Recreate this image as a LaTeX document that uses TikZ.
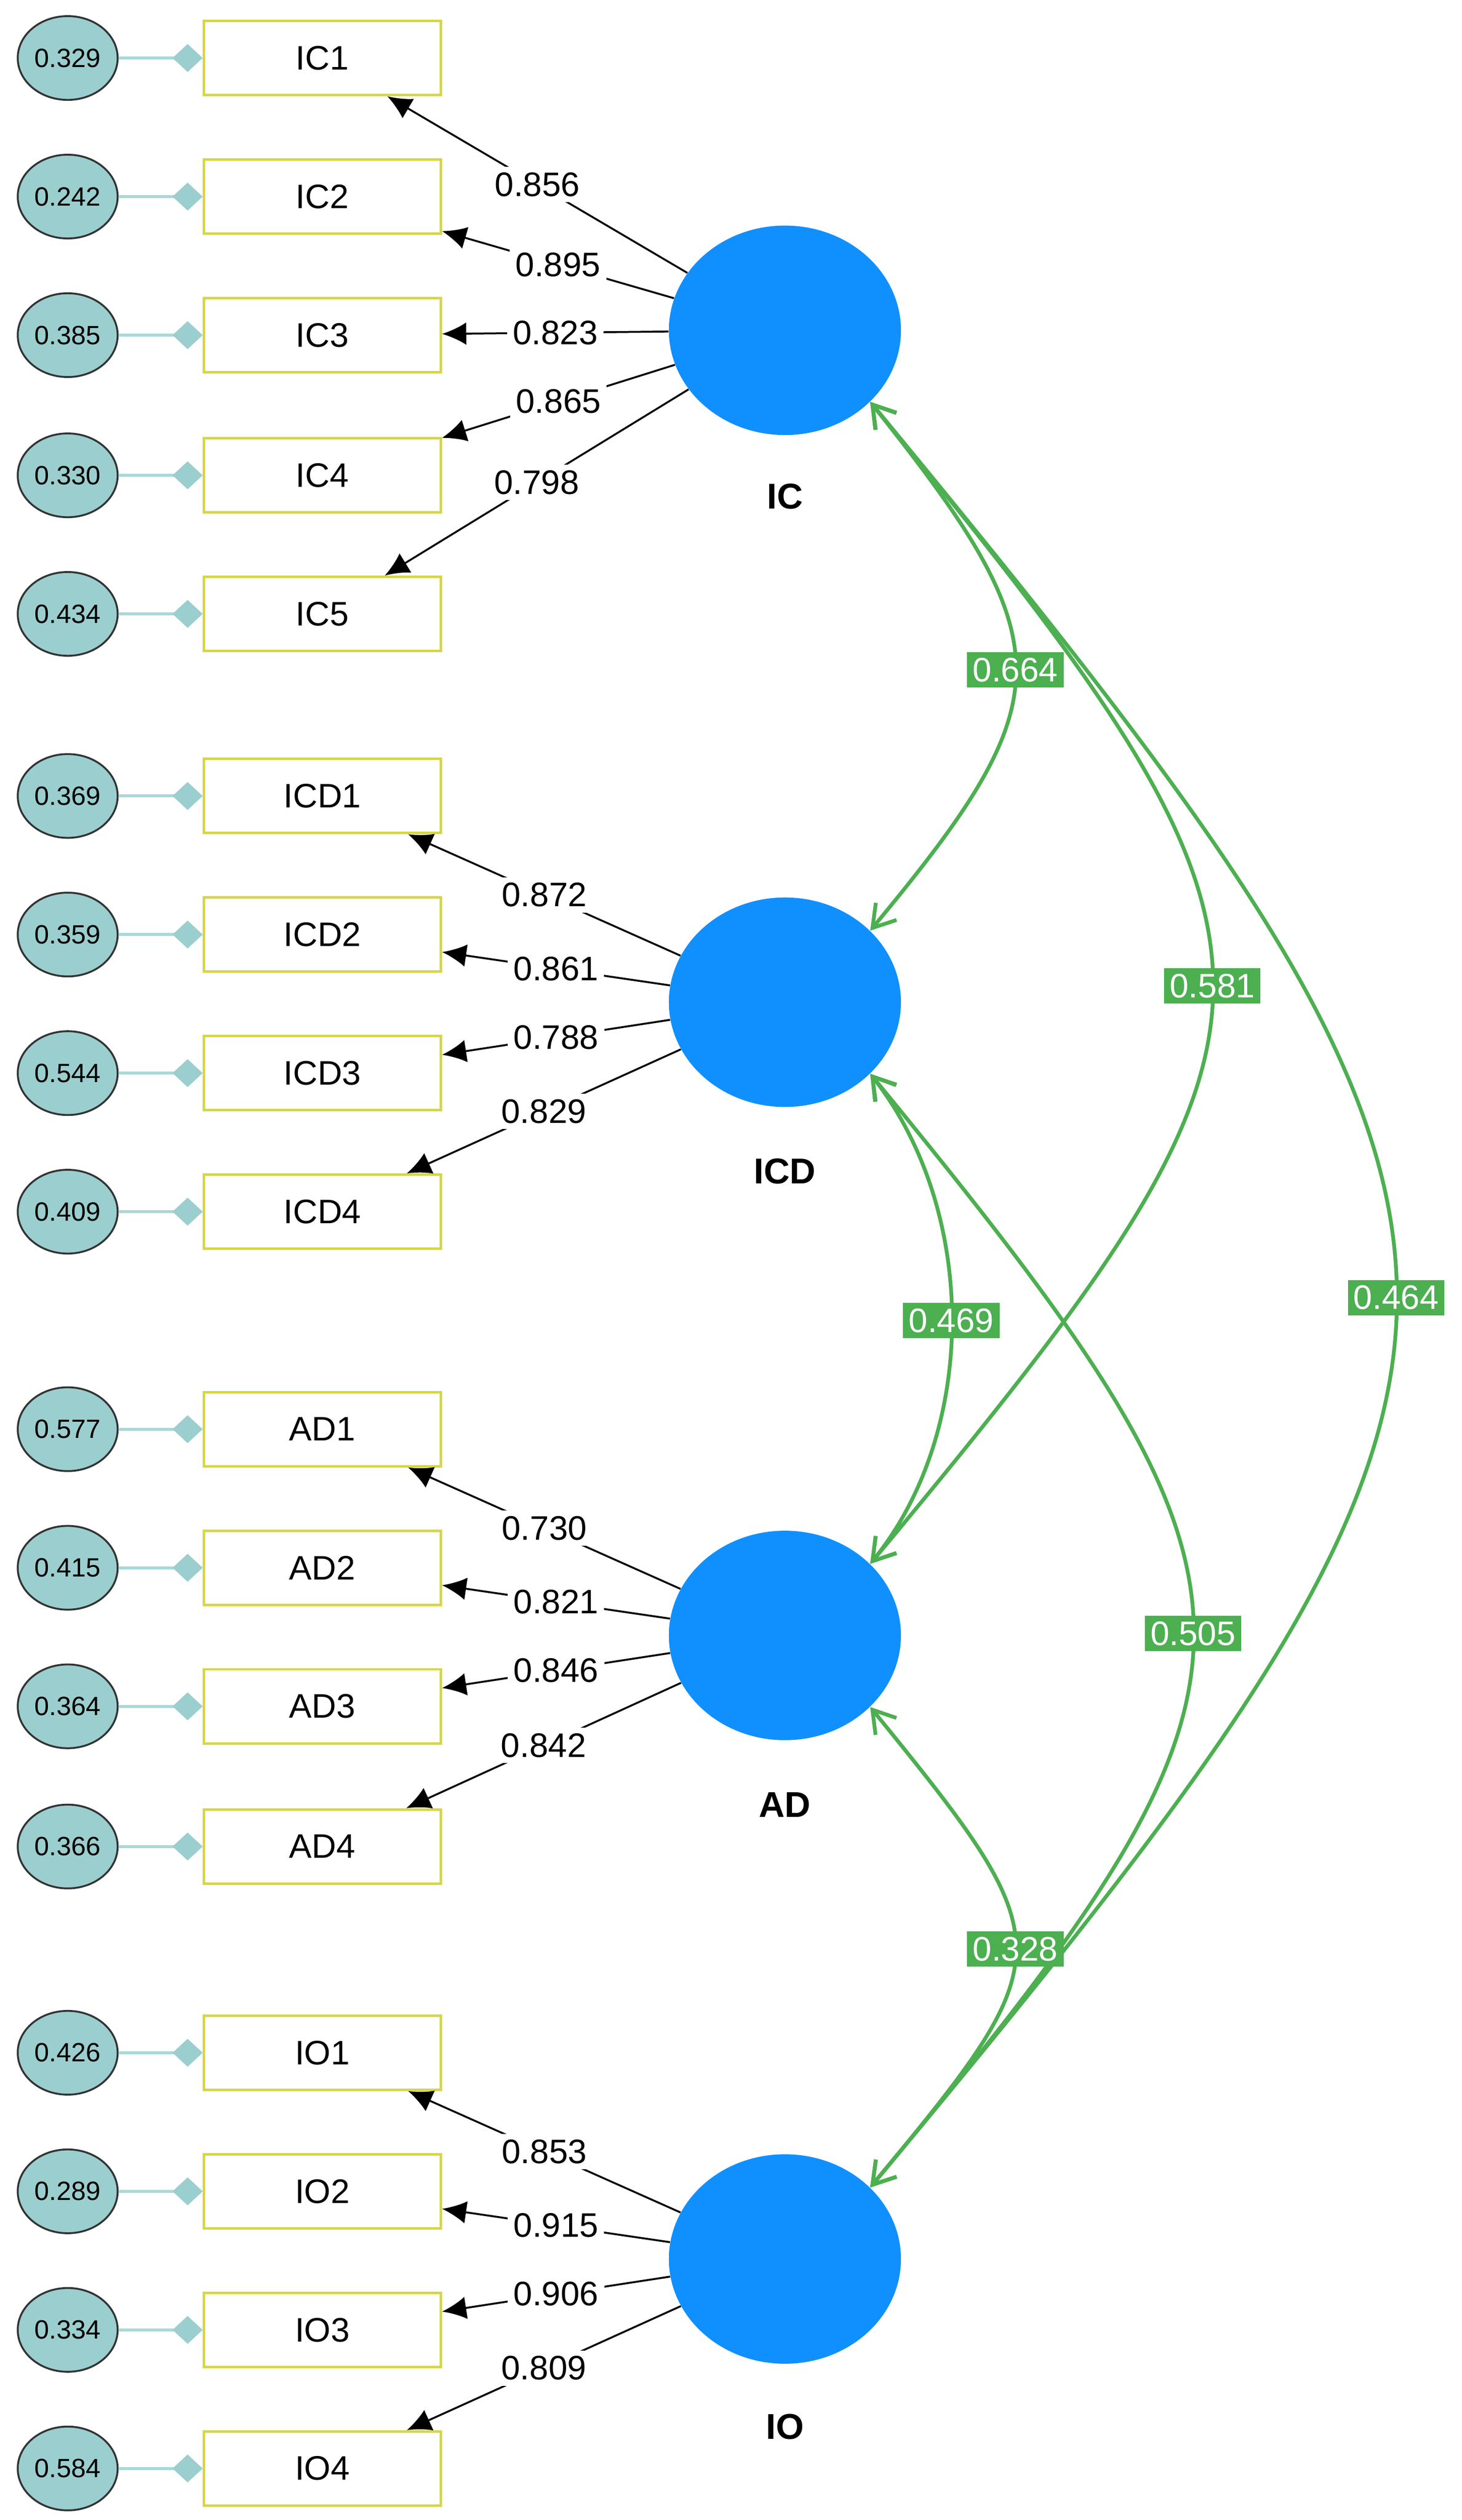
\documentclass[tikz,border=0pt]{standalone}
\usepackage{fontspec}
\setmainfont{Liberation Sans}
\usetikzlibrary{shapes.geometric,arrows.meta}
\definecolor{errc}{RGB}{155,206,206}
\definecolor{errl}{RGB}{170,216,216}
\definecolor{latc}{RGB}{16,144,255}
\definecolor{covc}{RGB}{76,175,80}
\definecolor{boxc}{RGB}{214,214,70}
\begin{document}
\begin{tikzpicture}[x=0.03cm,y=-0.03cm,
 err/.style={ellipse,draw=black!80,line width=1pt,fill=errc,minimum width=1.86cm,minimum height=1.56cm,inner sep=0,font=\fontsize{14}{14}\selectfont},
 obs/.style={rectangle,draw=boxc,line width=1.3pt,fill=white,minimum width=4.41cm,minimum height=1.38cm,font=\fontsize{18}{18}\selectfont},
 lat/.style={ellipse,fill=latc,minimum width=4.32cm,minimum height=3.9cm,inner sep=0},
 latlab/.style={font=\bfseries\fontsize{19}{19}\selectfont},
 eline/.style={errl,line width=1.6pt,-{Kite[length=0.56cm,width=0.52cm,inset=0.28cm,fill=errc,color=errc]}},
 load/.style={black,line width=1pt,-{Latex[length=0.45cm,width=0.42cm]}},
 ll/.style={fill=white,inner sep=3pt,font=\fontsize{18}{18}\selectfont,pos=0.5},
 cov/.style={covc,line width=2pt,{Straight Barb[length=0.4cm,width=0.5cm]}-{Straight Barb[length=0.4cm,width=0.5cm]}},
 cl/.style={fill=covc,text=white,inner sep=3pt,font=\fontsize{18}{18}\selectfont,pos=0.5}]
\useasboundingbox (0,0) rectangle (907,1564);
% latents
\node[lat] (IC) at (487,205) {};
\node[lat] (ICD) at (487,622) {};
\node[lat] (AD) at (487,1015) {};
\node[lat] (IO) at (487,1402) {};
\node[latlab] (ICl) at (487,308) {IC};
\node[latlab] (ICDl) at (487,727) {ICD};
\node[latlab] (ADl) at (487,1120) {AD};
\node[latlab] (IOl) at (487,1506) {IO};
% indicators
\foreach \n/\y/\e/\l/\lt in {IC1/36/0.329/0.856/IC, IC2/122/0.242/0.895/IC, IC3/208/0.385/0.823/IC, IC4/295/0.330/0.865/IC, IC5/381/0.434/0.798/IC,
  ICD1/494/0.369/0.872/ICD, ICD2/580/0.359/0.861/ICD, ICD3/666/0.544/0.788/ICD, ICD4/752/0.409/0.829/ICD,
  AD1/887/0.577/0.730/AD, AD2/973/0.415/0.821/AD, AD3/1059/0.364/0.846/AD, AD4/1146/0.366/0.842/AD,
  IO1/1274/0.426/0.853/IO, IO2/1360/0.289/0.915/IO, IO3/1446/0.334/0.906/IO, IO4/1532/0.584/0.809/IO}{
  \node[obs] (\n) at (200,\y) {\n};
  \node[err] (e\n) at (42,\y) {\e};
  \draw[eline] (e\n) -- (\n);
  \draw[load] (\lt) -- (\n) node[ll] {\l};
}
% covariances
\draw[cov] (IC.-40) .. controls (660,400) and (660,433) .. (ICD.40) node[cl] {0.664};
\draw[cov] (IC.-40) .. controls (823,595) and (823,630) .. (AD.40) node[cl] {0.581};
\draw[cov] (IC.-40) .. controls (975,777) and (975,835) .. (IO.40) node[cl] {0.464};
\draw[cov] (ICD.-40) .. controls (607,752) and (607,888) .. (AD.40) node[cl] {0.469};
\draw[cov] (ICD.-40) .. controls (807,992) and (807,1037) .. (IO.40) node[cl] {0.505};
\draw[cov] (AD.-40) .. controls (660,1207) and (660,1213) .. (IO.40) node[cl] {0.328};
\end{tikzpicture}
\end{document}
